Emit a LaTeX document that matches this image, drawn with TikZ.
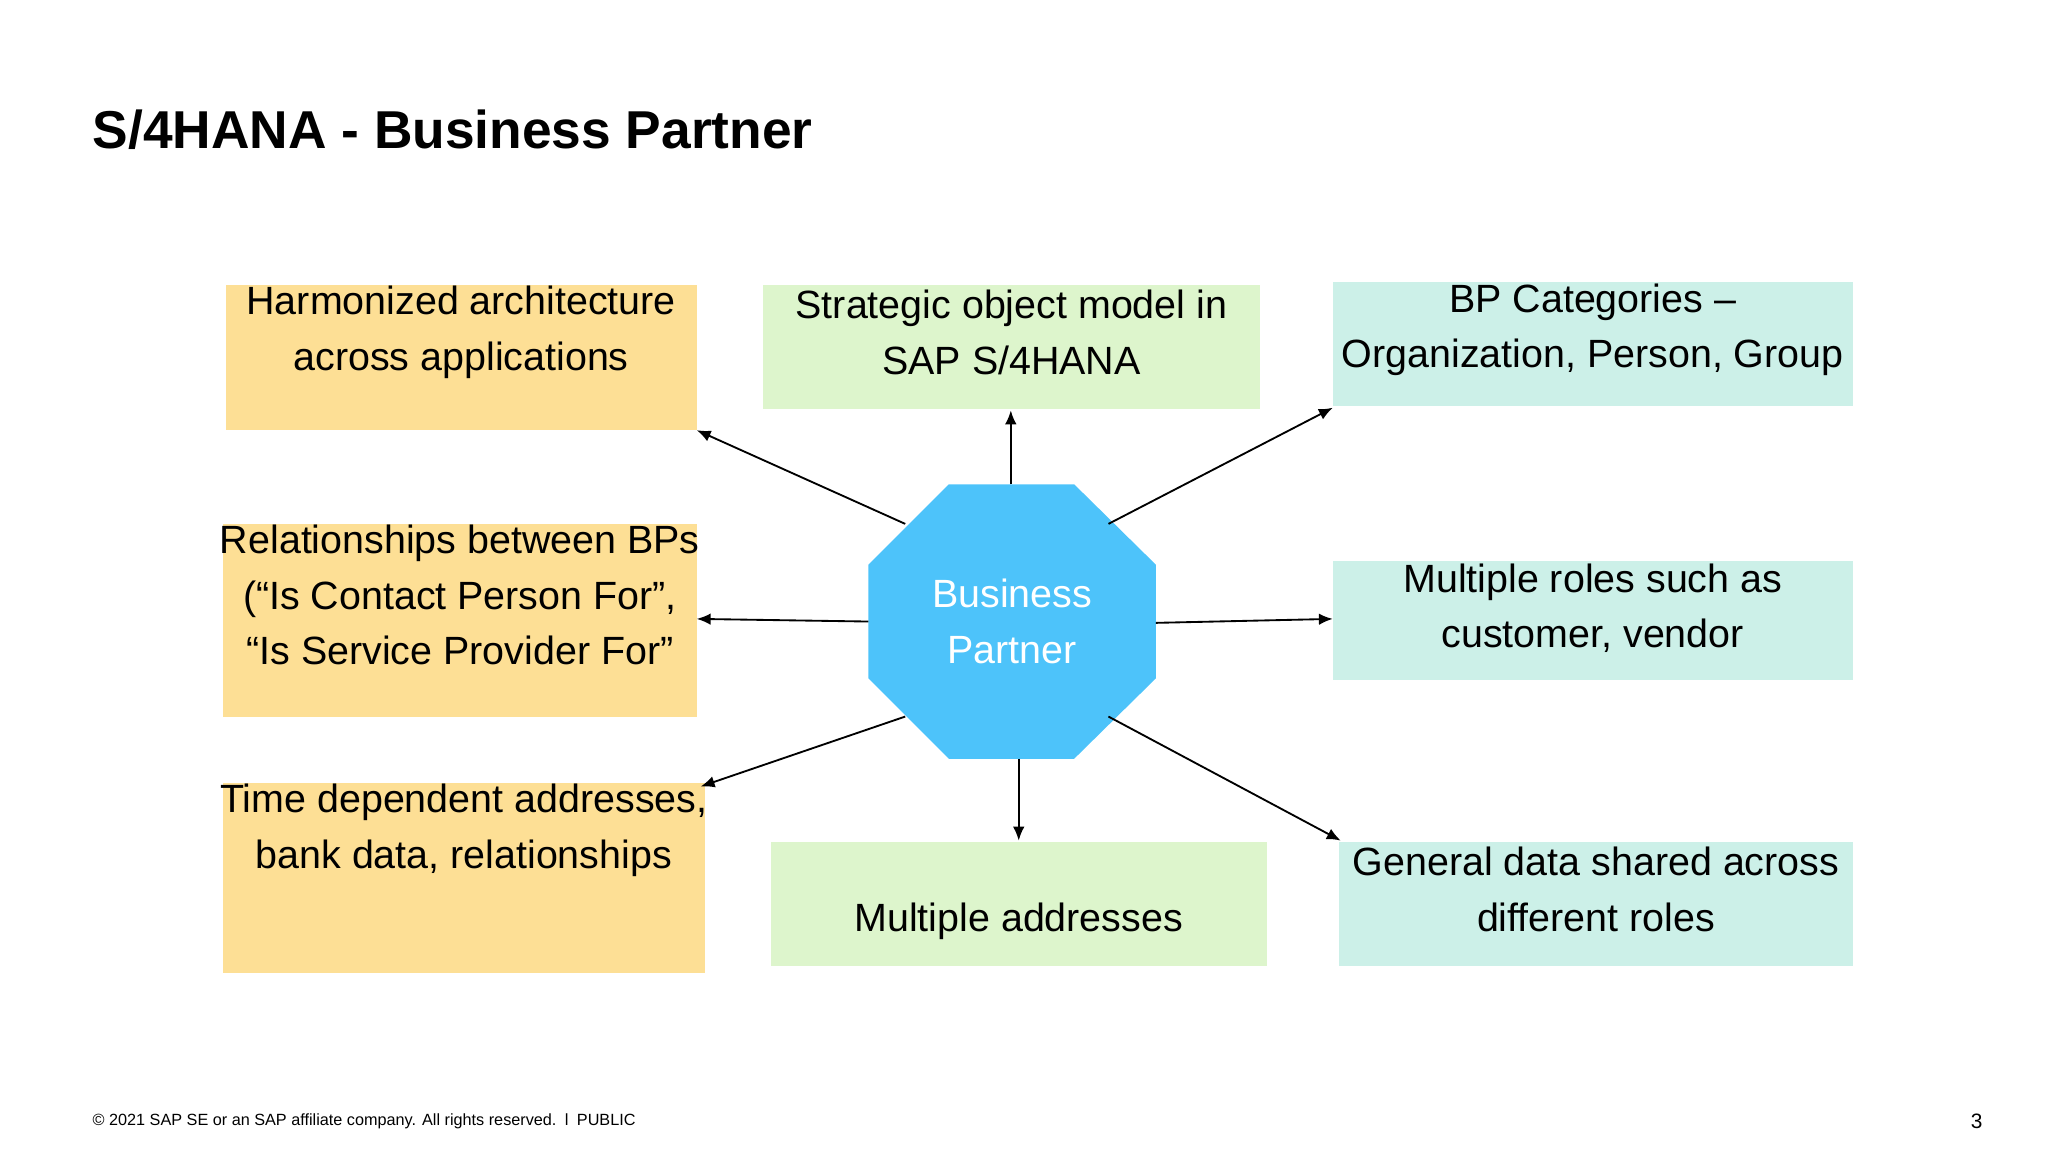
\documentclass[tikz,border=0pt]{standalone}
\usepackage{fontspec}
\setmainfont{Liberation Sans}
\usetikzlibrary{arrows.meta}
\definecolor{bxo}{HTML}{FDDF95}
\definecolor{bxg}{HTML}{DDF5CC}
\definecolor{bxt}{HTML}{CCF0E8}
\definecolor{bpc}{HTML}{4DC3FA}
\begin{document}
\begin{tikzpicture}[x=0.02cm,y=-0.02cm,
  box/.style={inner sep=0pt,align=center,font=\fontsize{17}{24}\selectfont},
  arr/.style={-{Latex[length=6pt,width=5pt]},line width=0.8pt}]
\useasboundingbox (0,0) rectangle (1552,873);
\node[anchor=west,font=\fontsize{23}{28}\selectfont\bfseries] (title) at (64,98) {S/4HANA - Business Partner};
% boxes
\fill[bxo] (171,216) rectangle (528,326);
\node[box] (t1) at (349.5,252) {Harmonized architecture\\across applications};
\fill[bxg] (578,216) rectangle (955,310);
\node[box] (t2) at (766.5,252) {Strategic object model in\\SAP S/4HANA};
\fill[bxt] (1010,214) rectangle (1404,308);
\node[box] (t3) at (1207,250) {BP Categories --\\Organization, Person, Group};
\fill[bxo] (169,397) rectangle (528,543);
\node[box] (t4) at (348.5,451) {Relationships between BPs\\(“Is Contact Person For”,\\“Is Service Provider For”};
\fill[bxt] (1010,425) rectangle (1404,515);
\node[box] (t5) at (1207,461) {Multiple roles such as\\customer, vendor};
\fill[bxo] (169,593) rectangle (534,737);
\node[box] (t6) at (351.5,629) {Time dependent addresses,\\bank data, relationships};
\fill[bxg] (584,638) rectangle (960,732);
\node[box] (t7) at (772,698) {Multiple addresses};
\fill[bxt] (1015,638) rectangle (1404,732);
\node[box] (t8) at (1209.5,674) {General data shared across\\different roles};
% octagon
\fill[bpc] (719,367) -- (814,367) -- (876,428) -- (876,514) -- (814,575) -- (719,575) -- (658,514) -- (658,428) -- cycle;
\node[box,text=white] (bp) at (767,471) {Business\\Partner};
% anchor coordinates
\coordinate (o1) at (686,397); \coordinate (e1) at (528,326);
\coordinate (o2) at (766,367); \coordinate (e2) at (766,311);
\coordinate (o3) at (840,397); \coordinate (e3) at (1010,309);
\coordinate (o4) at (658,471); \coordinate (e4) at (528,469);
\coordinate (o5) at (876,472); \coordinate (e5) at (1010,469);
\coordinate (o6) at (686,543); \coordinate (e6) at (531,596);
\coordinate (o7) at (772,575); \coordinate (e7) at (772,637);
\coordinate (o8) at (840,543); \coordinate (e8) at (1016,637);
\foreach \i in {1,...,8} \draw[arr] (o\i) -- (e\i);
% footer
\node[anchor=west,font=\fontsize{7}{8}\selectfont] (foot) at (64,850) {© 2021 SAP SE or an SAP affiliate company. All rights reserved.\enspace ǀ\enspace PUBLIC};
\node[font=\fontsize{9}{10}\selectfont] (pg) at (1498,850) {3};
\end{tikzpicture}
\end{document}
